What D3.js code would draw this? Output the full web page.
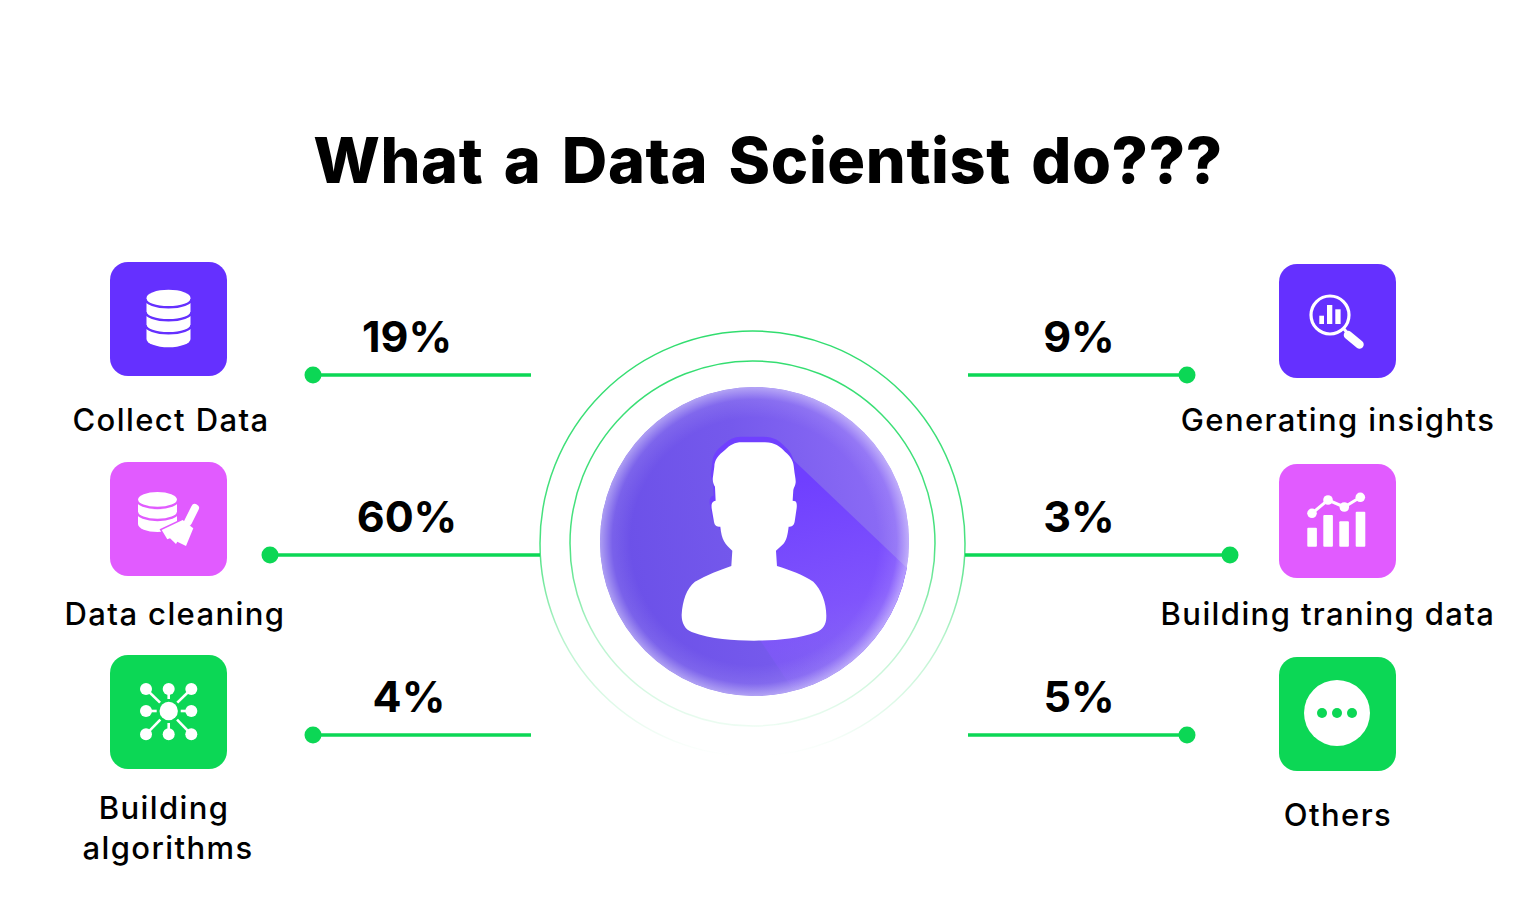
<!DOCTYPE html>
<html>
<head>
<meta charset="utf-8">
<title>What a Data Scientist do???</title>
<script src="https://cdn.jsdelivr.net/npm/d3@7"></script>
<style>
  html, body { margin: 0; padding: 0; background: #fff; }
  svg { display: block; }
  text { font-family: Inter, "Open Sans", sans-serif; fill: #000; }
</style>
</head>
<body>
<div id="chart"></div>
<script>
const chartTitle = 'What a Data Scientist do???';
const leftLabels = [['Collect Data'], ['Data cleaning'], ['Building', 'algorithms']];
const leftValues = [19, 60, 4];
const rightLabels = [['Generating insights'], ['Building traning data'], ['Others']];
const rightValues = [9, 3, 5];

const green = '#0cd755', purple = '#6530ff', pink = '#e15bff';
const width = 1536, height = 905;

const svg = d3.select('#chart').append('svg')
    .attr('width', width)
    .attr('height', height);
const defs = svg.append('defs');

// rows of the connector lines
const rowY = d3.scalePoint().domain([0, 1, 2]).range([375, 735]);

svg.append('text')
    .attr('x', 768).attr('y', 183)
    .attr('text-anchor', 'middle')
    .attr('font-size', 63)
    .attr('font-weight', 800)
    .attr('letter-spacing', 0.6)
    .attr('word-spacing', 6)
    .text(chartTitle);

// ---- centre badge ----
const cx = 754.5, cy = 541.5, r = 154.5;

const ringGrad = defs.append('linearGradient')
    .attr('id', 'ring').attr('gradientUnits', 'userSpaceOnUse')
    .attr('x1', 0).attr('x2', 0).attr('y1', 330).attr('y2', 756);
[[0, 0.85], [0.5, 0.75], [0.72, 0.3], [1, 0]].forEach(s => {
    ringGrad.append('stop').attr('offset', s[0]).attr('stop-color', green).attr('stop-opacity', s[1]);
});
svg.selectAll('.ring').data([212.5, 182.5]).join('circle')
    .attr('class', 'ring')
    .attr('cx', 752.5).attr('cy', 543.5).attr('r', d => d)
    .attr('fill', 'none')
    .attr('stroke', 'url(#ring)')
    .attr('stroke-width', 1.5);

// left side is darker, upper right and lower right get lighter
const baseGrad = defs.append('linearGradient')
    .attr('id', 'base').attr('x1', 0.05).attr('y1', 0.55).attr('x2', 1).attr('y2', 0.4);
baseGrad.append('stop').attr('offset', 0).attr('stop-color', '#6b50e8');
baseGrad.append('stop').attr('offset', 0.45).attr('stop-color', '#7559ec');
baseGrad.append('stop').attr('offset', 1).attr('stop-color', '#8f6ef7');

const shadowGrad = defs.append('linearGradient')
    .attr('id', 'shadow').attr('gradientUnits', 'userSpaceOnUse')
    .attr('x1', 800).attr('y1', 480).attr('x2', 850).attr('y2', 690);
shadowGrad.append('stop').attr('offset', 0).attr('stop-color', '#6f3fff').attr('stop-opacity', 1);
shadowGrad.append('stop').attr('offset', 0.6).attr('stop-color', '#7f52fd').attr('stop-opacity', 0.9);
shadowGrad.append('stop').attr('offset', 1).attr('stop-color', '#8a62fd').attr('stop-opacity', 0);

const edgeGrad = defs.append('radialGradient').attr('id', 'edge');
[[0, 0], [0.8, 0], [0.92, 0.1], [1, 0.45]].forEach(s => {
    edgeGrad.append('stop').attr('offset', s[0]).attr('stop-color', '#fff').attr('stop-opacity', s[1]);
});

defs.append('clipPath').attr('id', 'disc')
    .append('circle').attr('cx', cx).attr('cy', cy).attr('r', r);
defs.append('clipPath').attr('id', 'headOnly')
    .append('rect').attr('x', 400).attr('y', 300).attr('width', 600).attr('height', 330);

svg.append('circle').attr('cx', cx).attr('cy', cy).attr('r', r).attr('fill', 'url(#base)');

const disc = svg.append('g').attr('clip-path', 'url(#disc)');
// long shadow of the figure
disc.append('path')
    .attr('d', 'M785,452 L907,568 L930,700 L800,700 L760,640 Z')
    .attr('fill', 'url(#shadow)');
disc.append('circle').attr('cx', cx).attr('cy', cy).attr('r', r).attr('fill', 'url(#edge)');

const personPath = 'M635 367 L705 367 C735 367 750 380 765 395 C785 412 791 425 792 445 C794 465 798 478 797 488 ' +
    'C796 498 792 500 790 510 L788 542 L796 544 C801 548 801 556 800 565 L794 605 C792 617 785 620 776 620 ' +
    'C773 645 770 660 760 672 L738 692 L741 738 C780 750 820 765 850 785 C875 810 890 850 889 890 ' +
    'C889 915 878 928 860 936 C800 958 730 962 672 962 C610 962 545 958 485 936 C465 928 455 910 455 885 ' +
    'C458 840 470 805 495 785 C530 765 570 750 604 738 L607 692 C585 672 575 660 571 620 C560 620 554 617 552 605 ' +
    'L545 565 C544 552 545 545 557 542 L555 500 C549 490 547 480 549 470 L553 440 C553 420 565 405 585 390 ' +
    'C600 375 615 367 635 367 Z';
const person = svg.append('g').attr('transform', 'translate(530,320) scale(0.3333)');
person.append('g').attr('clip-path', 'url(#headOnly)')
    .append('path').attr('d', personPath).attr('fill', '#7040ff')
    .attr('stroke', '#7040ff').attr('stroke-width', 6)
    .attr('transform', 'translate(-3,-14)');
person.append('path').attr('d', personPath).attr('fill', '#fff');

// ---- connector lines and percentages ----
const pct = d => d + '%';
const leftEnds = [[313, 531], [270, 540], [313, 531]];
const rightEnds = [[968, 1187], [965, 1230], [968, 1187]];
const leftTextX = [407, 407, 409];

function drawLines(values, ends, dotIdx, textX, side) {
    const g = svg.append('g').attr('class', side).selectAll('g').data(values).join('g');
    g.append('line')
        .attr('x1', (d, i) => ends[i][0]).attr('x2', (d, i) => ends[i][1])
        .attr('y1', (d, i) => rowY(i)).attr('y2', (d, i) => rowY(i))
        .attr('stroke', green).attr('stroke-width', 3.4);
    g.append('circle')
        .attr('cx', (d, i) => ends[i][dotIdx])
        .attr('cy', (d, i) => rowY(i))
        .attr('r', 8.5).attr('fill', green);
    g.append('text')
        .attr('x', (d, i) => textX[i])
        .attr('y', (d, i) => rowY(i) - 23)
        .attr('text-anchor', 'middle')
        .attr('font-size', 43)
        .attr('font-weight', 700)
        .text(pct);
}
drawLines(leftValues, leftEnds, 0, leftTextX, 'left');
drawLines(rightValues, rightEnds, 1, [1079, 1079, 1079], 'right');

// ---- labels ----
function drawLabels(labels, xs, ys) {
    svg.append('g').selectAll('text').data(labels).join('text')
        .attr('text-anchor', 'middle')
        .attr('font-size', 31)
        .attr('font-weight', 500)
        .attr('letter-spacing', 1.4)
        .each(function(lines, i) {
            d3.select(this).selectAll('tspan').data(lines).join('tspan')
                .attr('x', (d, j) => xs[i] + (lines.length > 1 && j === 0 ? -4 : 0))
                .attr('y', (d, j) => ys[i] + j * 40)
                .text(d => d);
        });
}
drawLabels(leftLabels, [171, 175, 168], [431, 625, 819]);
drawLabels(rightLabels, [1338, 1328, 1338], [431, 625, 826]);

// ---- icon tiles ----
function tile(x, y, color) {
    const g = svg.append('g').attr('transform', `translate(${x},${y})`);
    g.append('rect').attr('width', 117).attr('height', 114).attr('rx', 18).attr('fill', color);
    return g;
}

function cylinder(g, x, rx, ry, top, bottom, seps, color) {
    g.append('path')
        .attr('d', `M${x - rx},${top} A${rx},${ry} 0 0 1 ${x + rx},${top} L${x + rx},${bottom} A${rx},${ry} 0 0 1 ${x - rx},${bottom} Z`)
        .attr('fill', '#fff');
    g.selectAll('.sep').data(seps).join('path')
        .attr('class', 'sep')
        .attr('d', d => `M${x - rx - 1},${d} A${rx + 1},${ry} 0 0 0 ${x + rx + 1},${d}`)
        .attr('fill', 'none').attr('stroke', color).attr('stroke-width', 2.4);
}

const dbIcon = tile(110, 262, purple);
cylinder(dbIcon, 58.5, 22, 8.3, 36, 77, [37, 50, 63], purple);

const broomIcon = tile(110, 462, pink);
cylinder(broomIcon, 47.5, 19.5, 8, 38, 62, [38, 50], pink);
broomIcon.append('path')
    .attr('d', 'M72.7,58 L83.3,66.3 L76,84 L67.3,79.7 L66,82 L60,76.3 L57.3,77.3 L51.7,68 Z')
    .attr('fill', '#fff').attr('stroke', pink).attr('stroke-width', 3).attr('paint-order', 'stroke');
broomIcon.append('line')
    .attr('x1', 85).attr('y1', 46).attr('x2', 78).attr('y2', 60)
    .attr('stroke', '#fff').attr('stroke-width', 8).attr('stroke-linecap', 'round');

const searchIcon = tile(1279, 264, purple);
searchIcon.append('circle').attr('cx', 51).attr('cy', 51).attr('r', 19)
    .attr('fill', 'none').attr('stroke', '#fff').attr('stroke-width', 3.2);
searchIcon.selectAll('.bar').data([[40.3, 51.7, 4.7], [48, 41, 5.3], [56.3, 45.3, 5.3]]).join('rect')
    .attr('class', 'bar')
    .attr('x', d => d[0]).attr('y', d => d[1]).attr('width', d => d[2]).attr('height', d => 60 - d[1])
    .attr('fill', '#fff');
searchIcon.append('line').attr('x1', 65).attr('y1', 65).attr('x2', 70).attr('y2', 71)
    .attr('stroke', '#fff').attr('stroke-width', 3);
searchIcon.append('line').attr('x1', 69).attr('y1', 71).attr('x2', 80.5).attr('y2', 80.5)
    .attr('stroke', '#fff').attr('stroke-width', 8.5).attr('stroke-linecap', 'round');

const trendIcon = tile(1279, 464, pink);
trendIcon.selectAll('rect.bar').data([[28.3, 63.7], [44.3, 51], [60.3, 57.3], [76.7, 47.7]]).join('rect')
    .attr('class', 'bar')
    .attr('x', d => d[0]).attr('y', d => d[1]).attr('width', 9.6).attr('height', d => 82.7 - d[1]).attr('rx', 1)
    .attr('fill', '#fff');
const trendPts = [[33, 49.3], [49, 36], [65.3, 43], [81.3, 33.3]];
trendIcon.append('path').attr('d', d3.line()(trendPts)).attr('fill', 'none')
    .attr('stroke', '#fff').attr('stroke-width', 3);
trendIcon.selectAll('.pt').data(trendPts).join('circle').attr('class', 'pt')
    .attr('cx', d => d[0]).attr('cy', d => d[1]).attr('r', 4.8).attr('fill', '#fff');

const netIcon = tile(110, 655, green);
const hub = [58.7, 56];
const spokes = [[36, 34], [58.7, 34], [81.3, 34], [36, 56], [81.3, 56], [36, 79.3], [58.7, 79.3], [81.3, 79.3]];
netIcon.selectAll('line').data(spokes).join('line')
    .attr('x1', d => d[0]).attr('y1', d => d[1])
    .attr('x2', d => {
        const len = Math.hypot(d[0] - hub[0], d[1] - hub[1]);
        return hub[0] + (d[0] - hub[0]) / len * 12;
    })
    .attr('y2', d => {
        const len = Math.hypot(d[0] - hub[0], d[1] - hub[1]);
        return hub[1] + (d[1] - hub[1]) / len * 12;
    })
    .attr('stroke', '#fff').attr('stroke-width', 2.6);
netIcon.selectAll('.node').data(spokes).join('circle').attr('class', 'node')
    .attr('cx', d => d[0]).attr('cy', d => d[1]).attr('r', 6).attr('fill', '#fff');
netIcon.append('circle').attr('cx', hub[0]).attr('cy', hub[1]).attr('r', 9.2).attr('fill', '#fff');

const moreIcon = tile(1279, 657, green);
moreIcon.append('circle').attr('cx', 58).attr('cy', 56).attr('r', 33).attr('fill', '#fff');
moreIcon.selectAll('.dot').data([-15, 0, 15]).join('circle').attr('class', 'dot')
    .attr('cx', d => 58 + d).attr('cy', 56).attr('r', 5).attr('fill', green);
</script>
</body>
</html>
